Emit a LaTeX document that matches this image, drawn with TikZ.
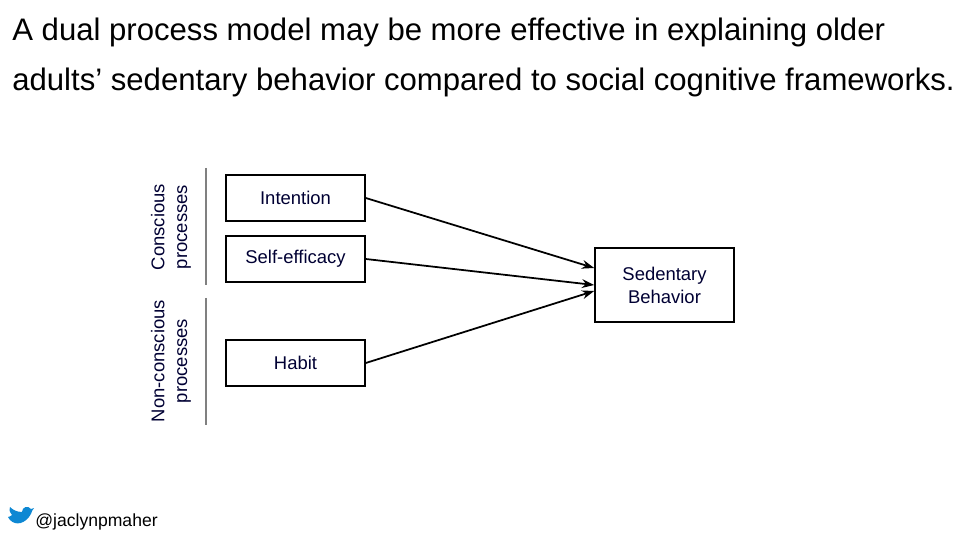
\documentclass[tikz,border=0pt]{standalone}
\usepackage{fontspec}
\setmainfont{Liberation Sans}
\usetikzlibrary{arrows.meta}
\begin{document}
\begin{tikzpicture}[x=0.02cm,y=-0.02cm,
  box/.style={draw,line width=0.9pt,minimum width=2.78cm,minimum height=0.92cm,inner sep=0pt,font=\fontsize{10.5}{13}\selectfont,text=black!80!blue},
  conn/.style={line width=1pt,-{Stealth[length=7pt,width=5pt]}},
  grp/.style={rotate=90,align=center,font=\fontsize{10.5}{13}\selectfont,text=black!80!blue}]
\useasboundingbox (0,0) rectangle (960,540);
\node[anchor=west,inner sep=0pt] (title) at (12,58) {\resizebox{18.85cm}{!}{\begin{tabular}{@{}l@{}}A dual process model may be more effective in explaining older\\[4pt]adults’ sedentary behavior compared to social cognitive frameworks.\end{tabular}}};
\node[box] (int) at (295.5,198) {Intention};
\node[box] (se) at (295.5,259) {Self-efficacy};
\node[box] (hab) at (295.5,363) {Habit};
\node[box,minimum height=1.48cm,align=center] (sed) at (664.5,285) {Sedentary\\Behavior};
\draw[conn] (int.east) -- (sed.west|-0,268);
\draw[conn] (se.east) -- (sed.west|-0,285);
\draw[conn] (hab.east) -- (sed.west|-0,291);
\coordinate (c1) at (206,168); \coordinate (c2) at (206,285);
\coordinate (n1) at (206,298); \coordinate (n2) at (206,425);
\draw[line width=0.6pt,gray] (c1) -- (c2);
\draw[line width=0.6pt,gray] (n1) -- (n2);
\node[grp] (cons) at (171,227) {Conscious\\processes};
\node[grp] (ncons) at (171,361) {Non-conscious\\processes};
\fill[cyan!70!blue] (8,517) .. controls (12,525) and (22,526) .. (29,517) .. controls (31,514) and (32,512) .. (32,511) -- (34,508) -- (31,509) .. controls (28,505) and (22,507) .. (22,512) .. controls (17,512) and (13,510) .. (10,507) .. controls (9,511) and (10,513) .. (12,515) .. controls (11,516) and (9,517) .. (8,517) -- cycle;
\node[anchor=west,font=\fontsize{10}{12}\selectfont,inner sep=0pt] (handle) at (35,522) {@jaclynpmaher};
\end{tikzpicture}
\end{document}
